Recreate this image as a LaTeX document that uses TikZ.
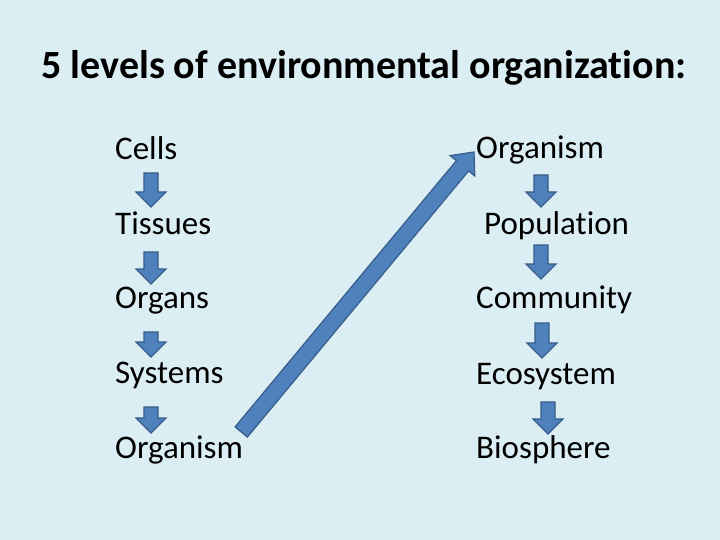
\documentclass[tikz,border=0pt]{standalone}
\usepackage{fontspec}
\setmainfont{Carlito}[Ligatures=NoCommon]
\usetikzlibrary{calc, positioning}
\definecolor{SlideColor}{RGB}{219,238,244}
\definecolor{ArrowFill}{RGB}{79,129,189}
\definecolor{ArrowEdge}{RGB}{56,93,138}
\tikzset{
  level/.style={anchor=base west, inner sep=0pt, font=\fontsize{33}{40}\selectfont},
  heading/.style={anchor=base, inner sep=0pt, font=\fontsize{40}{48}\selectfont\bfseries},
  block arrow/.style={fill=ArrowFill, draw=ArrowEdge, line width=1.2pt, line join=miter}
}
% block arrow: from, to, shaft half width, head half width, head length
\newcommand{\blockarrow}[5]{%
  \coordinate (head) at ($(#2)!#5!(#1)$);
  \draw[block arrow] ($(#1)!#3!90:(#2)$) -- ($(head)!#3!90:(#2)$)
    -- ($(head)!#4!90:(#2)$) -- (#2) -- ($(head)!#4!-90:(#2)$)
    -- ($(head)!#3!-90:(#2)$) -- ($(#1)!#3!-90:(#2)$) -- cycle;
}

\begin{document}
\begin{tikzpicture}[x=1pt, y=-1pt]
  % slide background
  \fill[SlideColor] (0,0) rectangle (720,540);

  % title
  \node[heading] (title) at (364,79) {5 levels of environmental organization:};

  % left column
  \node[level] (cells)     at (115,160) {Cells};
  \node[level] (tissues)   at (115,234) {Tissues};
  \node[level] (organs)    at (115,308) {Organs};
  \node[level] (systems)   at (115,383) {Systems};
  \node[level] (organismL) at (115,458) {Organism};

  % right column
  \node[level] (organismR)  at (476,159) {Organism};
  \node[level] (population) at (484,234) {Population};
  \node[level] (community)  at (476,308) {Community};
  \node[level] (ecosystem)  at (476,384) {Ecosystem};
  \node[level] (biosphere)  at (476,458) {Biosphere};

  % down arrows between levels
  \foreach \a/\b/\x/\t/\u in {cells/tissues/151/13/27, tissues/organs/151/18/24,
      organs/systems/151/24/26, systems/organismL/151/24/25,
      organismR/population/541/16/27, population/community/541/11/29,
      community/ecosystem/542/15/26, ecosystem/biosphere/548/18/24} {
    \coordinate (from) at ($(\x,0 |- \a.base)+(0,\t)$);
    \coordinate (to)   at ($(\x,0 |- \b.base)+(0,-\u)$);
    \blockarrow{from}{to}{7pt}{15pt}{15pt}
  }

  % organism back up to organism
  \coordinate (tail) at ($(organismL.base east)+(-2,-26)$);
  \coordinate (tip)  at ($(organismR.base west)+(-2,-7)$);
  \blockarrow{tail}{tip}{8pt}{16pt}{18pt}
\end{tikzpicture}
\end{document}
